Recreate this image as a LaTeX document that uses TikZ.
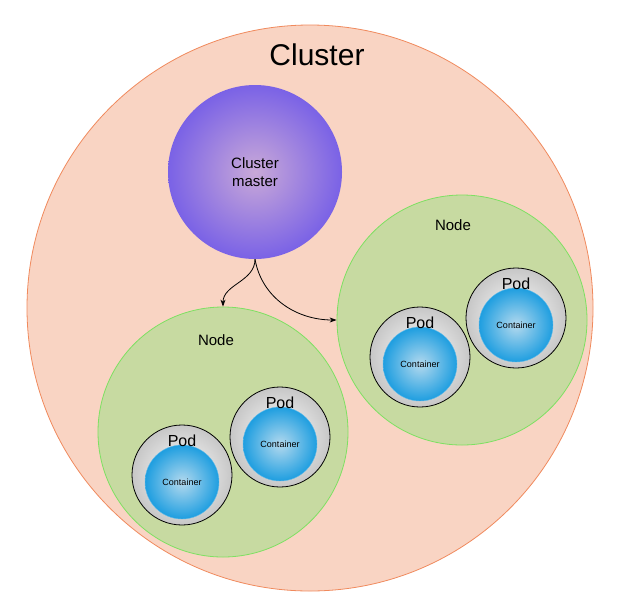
\documentclass[tikz,border=0pt]{standalone}
\usepackage{fontspec}
\setmainfont{Liberation Sans}
\usetikzlibrary{arrows.meta}
\definecolor{clfill}{HTML}{F9D4C3}
\definecolor{cldraw}{HTML}{F08A5D}
\definecolor{ndfill}{HTML}{C7DAA1}
\definecolor{nddraw}{HTML}{7EE062}
\definecolor{mscol}{HTML}{7A62E6}
\definecolor{mscen}{HTML}{C9A9D8}
\definecolor{ctcol}{HTML}{1E9EE0}
\definecolor{ctcen}{HTML}{B3D9EE}
\tikzset{
  cluster/.style={circle,draw=cldraw,fill=clfill,line width=.8pt,minimum size=566pt,inner sep=0pt},
  master/.style={circle,inner color=mscen,outer color=mscol,minimum size=174pt,inner sep=0pt,align=center,font=\fontsize{15}{18}\selectfont},
  knode/.style={circle,draw=nddraw,fill=ndfill,line width=.8pt,minimum size=250pt,inner sep=0pt},
  pod/.style={circle,draw=black,line width=.8pt,inner color=white,outer color=black!22,minimum size=100pt,inner sep=0pt},
  cont/.style={circle,draw=ctcol!70,inner color=ctcen,outer color=ctcol,minimum size=74pt,inner sep=0pt,font=\fontsize{9}{10}\selectfont},
  lbl/.style={font=\fontsize{15}{18}\selectfont},
  podlbl/.style={font=\fontsize{16}{18}\selectfont},
  link/.style={-{Stealth[length=7pt,width=5pt]},line width=.8pt}
}
\begin{document}
\begin{tikzpicture}[x=1pt,y=-1pt]
\useasboundingbox (0,0) rectangle (628,600);
\node[cluster] (cl) at (310,308) {};
\node[font=\fontsize{30}{34}\selectfont] (cltitle) at (317,55) {Cluster};
\node[master] (ms) at (255,172) {Cluster\\master};
% nodes
\node[knode] (nl) at (223,432) {};
\node[knode] (nr) at (462,320) {};
\node[lbl] (nllbl) at (216,340) {Node};
\node[lbl] (nrlbl) at (453,225) {Node};
% pods
\foreach \name/\x/\y in {pa/182/475,pb/280/437,pc/420/357,pd/516/318}
{
  \node[pod] (\name) at (\x,\y) {};
  \node[cont] (\name c) at (\x,\y+7) {Container};
  \node[podlbl] (\name l) at (\x,\y-34) {Pod};
}
\draw[link] (ms.south) to[out=-90,in=90] (nl.north);
\draw[link] (ms.south) to[out=-80,in=180] (nr.west);
\end{tikzpicture}
\end{document}
